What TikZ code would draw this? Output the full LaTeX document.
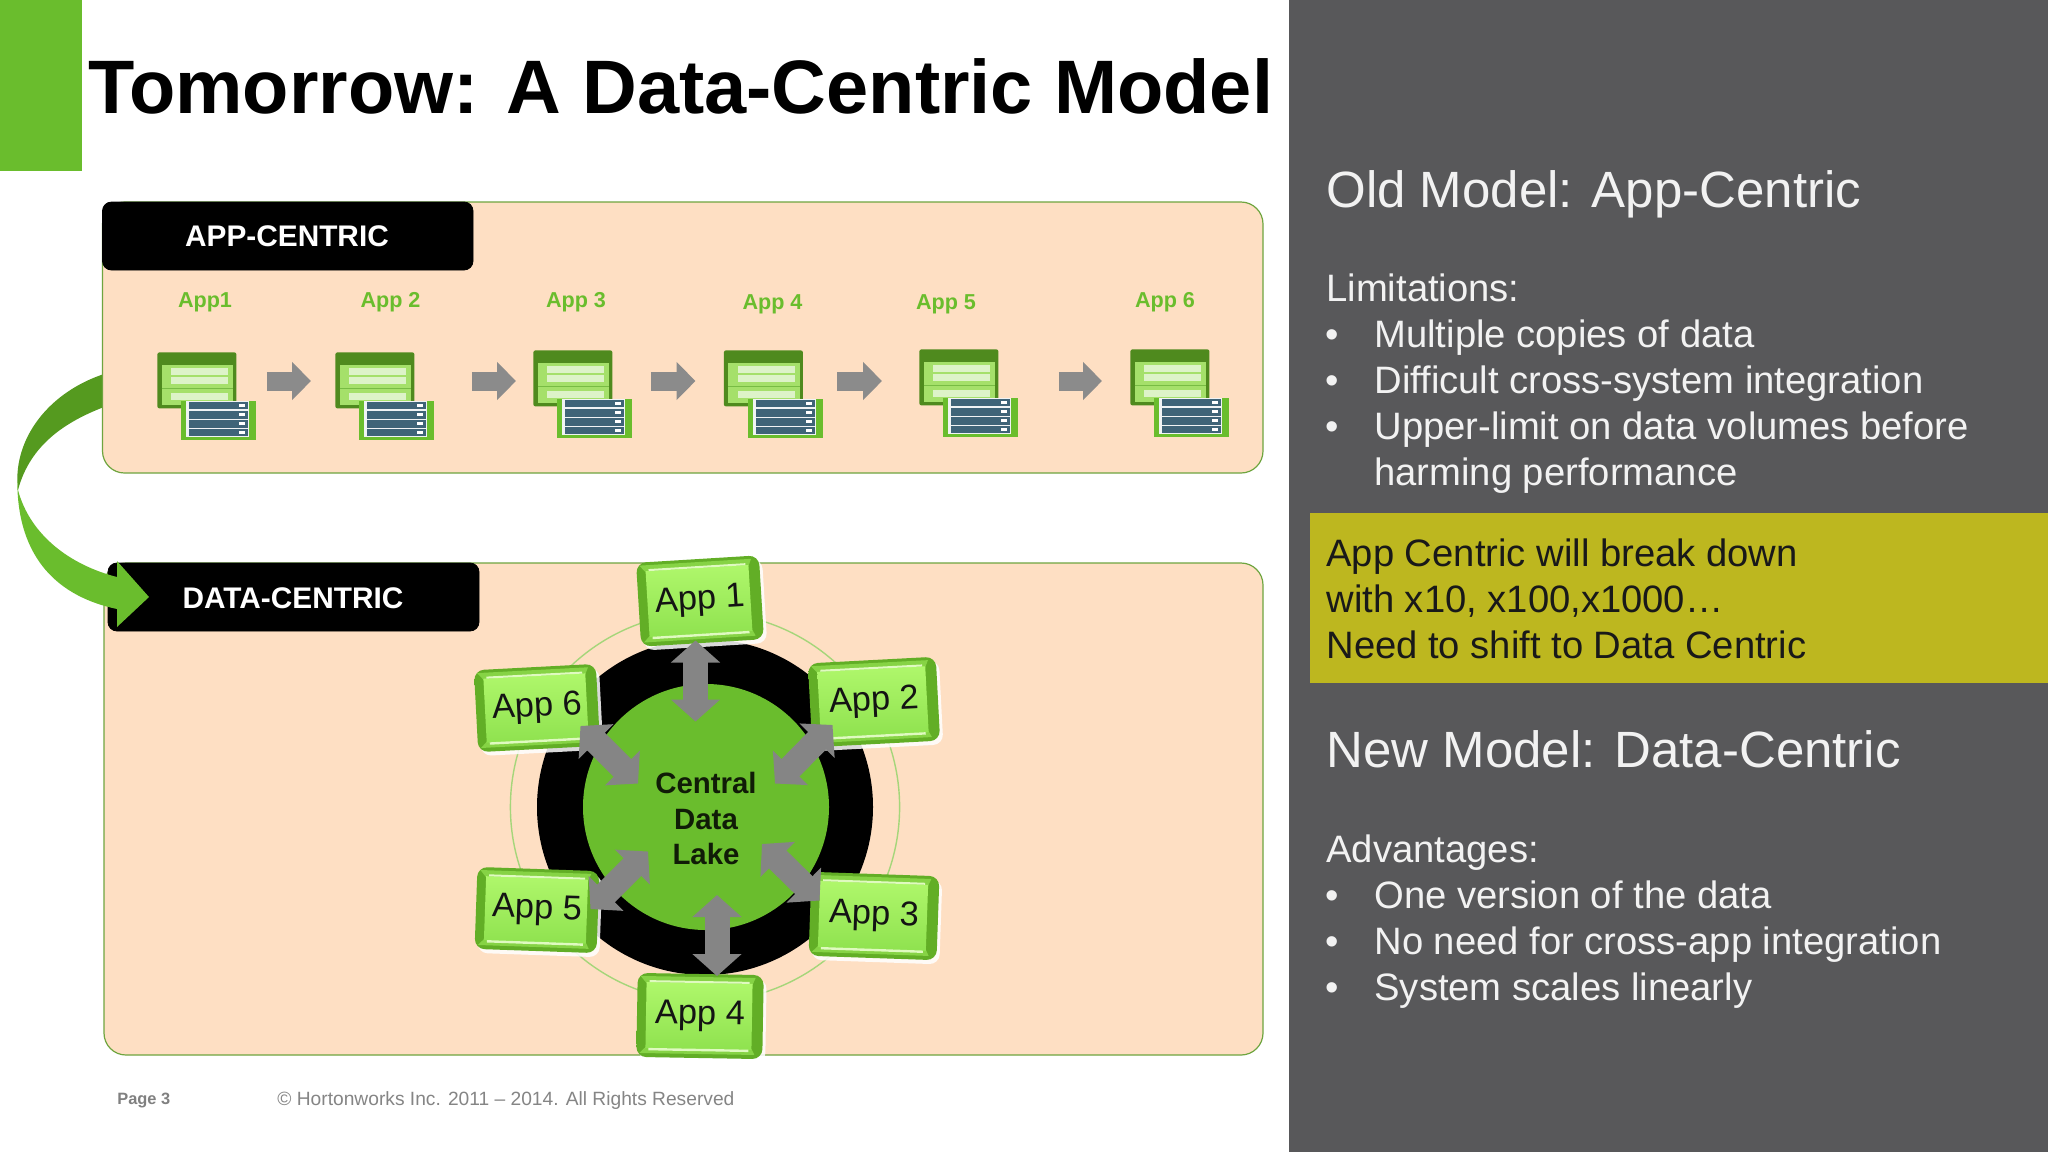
\documentclass[tikz,border=0pt]{standalone}
\usepackage{fontspec}
\setmainfont{Liberation Sans}
\usetikzlibrary{arrows.meta,calc}
\newcommand\fsz[1]{\fontsize{#1}{#1}\selectfont}
\definecolor{lime}{HTML}{6ABD2D}
\definecolor{limedark}{HTML}{559A1F}
\definecolor{peach}{HTML}{FEDFC3}
\definecolor{panelgrey}{HTML}{58585A}
\definecolor{olive}{HTML}{BDB71F}
\definecolor{panelline}{HTML}{6FA53F}
\definecolor{blockgrey}{HTML}{858585}
\definecolor{ringline}{HTML}{A5D67A}
\definecolor{winDark}{HTML}{4F8A1E}
\definecolor{winFace}{HTML}{A5E06A}
\definecolor{winRow}{HTML}{DDF3C8}
\definecolor{winLine}{HTML}{78BC44}
\definecolor{rack}{HTML}{3F6478}
\definecolor{bevA}{HTML}{62AE26}
\definecolor{bevB}{HTML}{2F5E12}
\definecolor{bevTop}{HTML}{86D345}
\definecolor{bevHi}{HTML}{DFFAC0}
\definecolor{faceTop}{HTML}{AFF76B}
\definecolor{faceBot}{HTML}{8FE24F}
\pgfdeclarehorizontalshading{bevshade}{100bp}{color(0bp)=(bevA); color(88bp)=(bevA); color(100bp)=(bevB)}
\tikzset{
  x=0.5pt,y=-0.5pt,
  panel/.style={fill=peach,draw=panelline,line width=0.6pt,rounded corners=11pt},
  blackbox/.style={fill=black,rounded corners=4.5pt},
  blacktext/.style={text=white,font=\bfseries\fsz{14.9},inner sep=0pt},
  rowlabel/.style={text=lime,font=\bfseries\fsz{10.8},inner sep=0pt},
  rowarrow/.style={draw=blockgrey!95!white,line width=9.5pt,-{Triangle[length=9.5pt,width=18.5pt]}},
  hubarrow/.style={draw=blockgrey,line width=12.5pt,{Triangle[length=11pt,width=24pt]}-{Triangle[length=11pt,width=24pt]}},
  heading/.style={anchor=base west,inner sep=0pt,text=white!95!black,font=\fsz{25.5}},
  body/.style={anchor=base west,inner sep=0pt,text=white!95!black,font=\fsz{19.1}},
  bodydark/.style={anchor=base west,inner sep=0pt,text=black!90,font=\fsz{19.1}},
  bullet/.style={anchor=base,inner sep=0pt,text=white!95!black,font=\fsz{19.1}},
  appname/.style={inner sep=0pt,text=black!92,font=\fsz{17.2}},
}
% #1 name, #2 x left, #3 y top of the window
\newcommand\appicon[3]{%
  \node[fill=winDark,rounded corners=1pt,minimum width=39.5pt,minimum height=28pt,inner sep=0pt,anchor=north west] (#1) at (#2,#3) {};
  \begin{scope}[shift={(#2,#3)}]
    \fill[winFace] (4.5,12.5) rectangle (76,53);
    \fill[winRow] (14,16) rectangle (71,23);
    \fill[winRow] (14,25) rectangle (71,32);
    \fill[winRow] (14,41) rectangle (71,48);
    \draw[winLine,line width=0.6pt] (4.5,36.5) -- (76,36.5);
    \fill[lime] (24,48.5) rectangle (99,88);
    \fill[white!92!rack] (29,48.5) rectangle (92,85);
    \fill[rack] (32,49.5) rectangle (91,57);
    \fill[rack] (32,59) rectangle (91,66.5);
    \fill[rack] (32,68) rectangle (91,75.5);
    \fill[rack] (32,77) rectangle (91,84);
    \fill[white] (82,51.5) rectangle (88,54.5);
    \fill[white] (82,61) rectangle (88,64);
    \fill[white] (82,70) rectangle (88,73);
    \fill[white] (82,79) rectangle (88,82);
  \end{scope}}
% #1 name, #2 x, #3 y, #4 rotation, #5 width, #6 height, #7 text
\newcommand\appbox[7]{%
  \begin{scope}[shift={(#2,#3)},rotate=#4]
    \fill[white,opacity=.85,rounded corners=5pt] ({-#5/2+3},{-#6/2+4}) rectangle ({#5/2+3},{#6/2+4});
    \shade[shading=bevshade,rounded corners=5pt] ({-#5/2},{-#6/2}) rectangle ({#5/2},{#6/2});
    \fill[bevTop] ({-#5/2+3},{-#6/2+3}) -- ({#5/2-8},{-#6/2+3}) -- ({#5/2-11},{-#6/2+10}) -- ({-#5/2+9},{-#6/2+10}) -- cycle;
    \fill[bevTop] ({-#5/2+9},{#6/2-10}) -- ({#5/2-11},{#6/2-10}) -- ({#5/2-8},{#6/2-4}) -- ({-#5/2+3},{#6/2-4}) -- cycle;
    \shade[top color=faceTop,bottom color=faceBot] ({-#5/2+9},{-#6/2+9}) rectangle ({#5/2-11},{#6/2-9});
    \draw[bevHi,line width=1pt] ({-#5/2+12},{-#6/2+8}) -- ({#5/2-14},{-#6/2+8});
    \draw[bevHi,line width=1.2pt] ({-#5/2+12},{#6/2-8}) -- ({#5/2-14},{#6/2-8});
  \end{scope}
  \node[appname,rotate=#4] (#1) at (#2,#3) {#7};}
\begin{document}
\begin{tikzpicture}
\useasboundingbox (0,0) rectangle (2048,1152);
\fill[white] (0,0) rectangle (2048,1152);
% slide furniture
\fill[lime] (0,0) rectangle (82,171);
\fill[panelgrey] (1289,0) rectangle (2048,1152);
\fill[olive] (1310,513) rectangle (2048,683);
\node[anchor=base west,inner sep=0pt,font=\bfseries\fsz{37.9}] (title) at (88,113) {Tomorrow: A Data-Centric Model};
% swoosh, rear part
\fill[limedark] (104,374) .. controls (50,392) and (17,435) .. (17.3,480) -- (18,490) .. controls (30,445) and (65,422) .. (104,407) -- cycle;
% panels
\draw[panel] (102.5,202) rectangle (1263,473);
\draw[panel] (104,563) rectangle (1263,1055);
\draw[blackbox] (102.5,202) rectangle (473,270);
\draw[blackbox] (108,563) rectangle (479,631);
\node[blacktext] (lblapp) at (287,236) {APP-CENTRIC};
\node[blacktext] (lbldata) at (293,598) {DATA-CENTRIC};
% swoosh, front part
\fill[lime] (18,490) .. controls (30,535) and (70,565) .. (117,577) -- (117,561) -- (149,597) -- (117,627) -- (117,609) .. controls (60,597) and (17,560) .. (17.3,480) -- cycle;
% top row
\coordinate (row) at (0,381);
\node[rowlabel] (n1) at (205,302) {App1};
\node[rowlabel] (n2) at (390.5,302) {App 2};
\node[rowlabel] (n3) at (576,302) {App 3};
\node[rowlabel] (n4) at (772.5,304) {App 4};
\node[rowlabel] (n5) at (946,304) {App 5};
\node[rowlabel] (n6) at (1165,302) {App 6};
\appicon{w1}{157}{352}
\appicon{w2}{335}{352}
\appicon{w3}{533}{350}
\appicon{w4}{723.5}{350}
\appicon{w5}{919}{349}
\appicon{w6}{1130}{349}
\draw[rowarrow,shorten <=15pt,shorten >=12pt] (w1.east |- row) -- (w2.west |- row);
\draw[rowarrow,shorten <=28.5pt,shorten >=8.5pt] (w2.east |- row) -- (w3.west |- row);
\draw[rowarrow,shorten <=19pt,shorten >=14pt] (w3.east |- row) -- (w4.west |- row);
\draw[rowarrow,shorten <=17pt,shorten >=18.5pt] (w4.east |- row) -- (w5.west |- row);
\draw[rowarrow,shorten <=30pt,shorten >=14pt] (w5.east |- row) -- (w6.west |- row);
% hub
\draw[ringline,line width=0.7pt] (705,807) circle (194.6);
\fill[black] (705,807) circle (168);
\node[circle,fill=lime,minimum size=123pt,inner sep=0pt] (lake) at (706,807) {};
\node[inner sep=0pt,align=center,text=black!85!lime,font=\bfseries\fsz{14.7}] (laketext) at (706,818.5) {Central\\[3pt]Data\\[3pt]Lake};
\appbox{app1}{700}{601}{3.5}{123}{84}{App 1}
\appbox{app2}{874}{702}{3}{128}{84}{App 2}
\appbox{app3}{874}{916}{-2}{128}{84}{App 3}
\appbox{app4}{700}{1016}{-1}{126}{84}{App 4}
\appbox{app5}{537}{910}{-2}{122}{82}{App 5}
\appbox{app6}{537}{708}{3}{122}{82}{App 6}
\coordinate (a1s) at (695.5,640.5); \coordinate (a1e) at (695.5,721.5);
\coordinate (a2s) at (832.5,725); \coordinate (a2e) at (775,783.5);
\coordinate (a3s) at (819.5,900.5); \coordinate (a3e) at (762,844);
\coordinate (a4s) at (717,895); \coordinate (a4e) at (717,976);
\coordinate (a5s) at (590.5,909); \coordinate (a5e) at (648,851.5);
\coordinate (a6s) at (580.5,726); \coordinate (a6e) at (638,783.5);
\draw[hubarrow] (a1s) -- (a1e);
\draw[hubarrow] (a2s) -- (a2e);
\draw[hubarrow] (a3s) -- (a3e);
\draw[hubarrow] (a4s) -- (a4e);
\draw[hubarrow] (a5s) -- (a5e);
\draw[hubarrow] (a6s) -- (a6e);
% footer
\node[anchor=base west,inner sep=0pt,text=black!50,font=\bfseries\fsz{8.2}] (page) at (117,1104) {Page 3};
\node[anchor=base west,inner sep=0pt,text=black!48,font=\fsz{9.6}] (copy) at (277,1105) {© Hortonworks Inc. 2011 – 2014. All Rights Reserved};
% right column
\node[heading] (h1) at (1326,207) {Old Model: App-Centric};
\node[body] (lim) at (1326,301) {Limitations:};
\node[bullet] (b1) at (1332,347) {•}; \node[body] (t1) at (1374,347) {Multiple copies of data};
\node[bullet] (b2) at (1332,393) {•}; \node[body] (t2) at (1374,393) {Difficult cross-system integration};
\node[bullet] (b3) at (1332,439) {•}; \node[body] (t3) at (1374,439) {Upper-limit on data volumes before};
\node[body] (t3b) at (1374,485) {harming performance};
\node[bodydark] (o1) at (1326,566) {App Centric will break down};
\node[bodydark] (o2) at (1326,612) {with x10, x100,x1000…};
\node[bodydark] (o3) at (1326,658) {Need to shift to Data Centric};
\node[heading] (h2) at (1326,767) {New Model: Data-Centric};
\node[body] (adv) at (1326,862) {Advantages:};
\node[bullet] (b4) at (1332,908) {•}; \node[body] (t4) at (1374,908) {One version of the data};
\node[bullet] (b5) at (1332,954) {•}; \node[body] (t5) at (1374,954) {No need for cross-app integration};
\node[bullet] (b6) at (1332,1000) {•}; \node[body] (t6) at (1374,1000) {System scales linearly};
\end{tikzpicture}
\end{document}
